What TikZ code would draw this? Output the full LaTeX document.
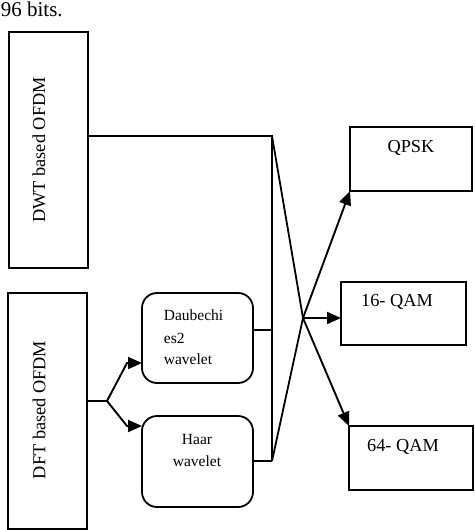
\documentclass[tikz,border=0pt]{standalone}
\usepackage{fontspec}
\setmainfont{Liberation Serif}
\usetikzlibrary{arrows.meta,calc}
\begin{document}
\begin{tikzpicture}[x=1pt,y=-1pt,
  line width=1.8pt,
  box/.style={draw,line width=1.8pt,inner sep=0pt,outer sep=0pt},
  rbox/.style={box,rounded corners=15pt},
  lbl/.style={inner sep=0pt,font=\fontsize{18.3}{20}\selectfont},
  wl/.style={inner sep=0pt,font=\fontsize{15.5}{20}\selectfont},
  arr/.style={-{Triangle[length=14pt,width=12pt]},line width=1.9pt}]
\useasboundingbox (0,0) rectangle (474,530);
% top text
\node[anchor=base west,inner sep=0pt,font=\fontsize{21}{24}\selectfont] (bits) at (0,16.5) {96 bits.};
% boxes
\node[box,minimum width=79pt,minimum height=236pt] (dwt) at (48.5,150) {};
\node[box,minimum width=79pt,minimum height=236pt] (dft) at (47.5,411) {};
\node[rbox,minimum width=111pt,minimum height=90pt] (daub) at (197.5,338) {};
\node[rbox,minimum width=111pt,minimum height=91pt] (haar) at (197.5,461.5) {};
\node[box,minimum width=122pt,minimum height=64pt] (qpsk) at (411,159) {};
\node[box,minimum width=125pt,minimum height=63pt] (qam16) at (403.5,313.5) {};
\node[box,minimum width=124pt,minimum height=64pt] (qam64) at (411,458) {};
% texts
\node[lbl,rotate=90] (tdwt) at (39,150) {DWT based OFDM};
\node[lbl,rotate=90] (tdft) at (39,410) {DFT based OFDM};
\node[lbl] (tqpsk) at (411,148) {QPSK};
\node[lbl] (t16) at (397,302) {16- QAM};
\node[lbl] (t64) at (403,447) {64- QAM};
\node[wl,anchor=base west] (td1) at (163,320) {Daubechi};
\node[wl,anchor=base west] (td2) at (163,343) {es2};
\node[wl,anchor=base west] (td3) at (163,364) {wavelet};
\node[wl,anchor=base] (th1) at (197,444) {Haar};
\node[wl,anchor=base] (th2) at (197,466) {wavelet};
% coordinates
\coordinate (a1) at (272,136);
\coordinate (a2) at (272,461);
\coordinate (a3) at (272,330);
\coordinate (J) at (303,318);
\coordinate (f) at (107,401);
\coordinate (u) at (127,363);
\coordinate (l) at (127,426);
% connectors
\draw (dwt.east |- a1) -- (a1) -- (a2);
\draw (daub.east |- a3) -- (a3);
\draw (haar.east |- a2) -- (a2);
\draw (a1) -- (J);
\draw (a2) -- (J);
\draw[arr] (J) -- (qpsk.south west);
\draw[arr] (J) -- (qam16.west |- J);
\draw[arr] (J) -- (qam64.north west);
\draw (dft.east |- f) -- (f);
\draw[arr] (f) -- (u) -- (daub.west |- u);
\draw[arr] (f) -- (l) -- (haar.west |- l);
\end{tikzpicture}
\end{document}
